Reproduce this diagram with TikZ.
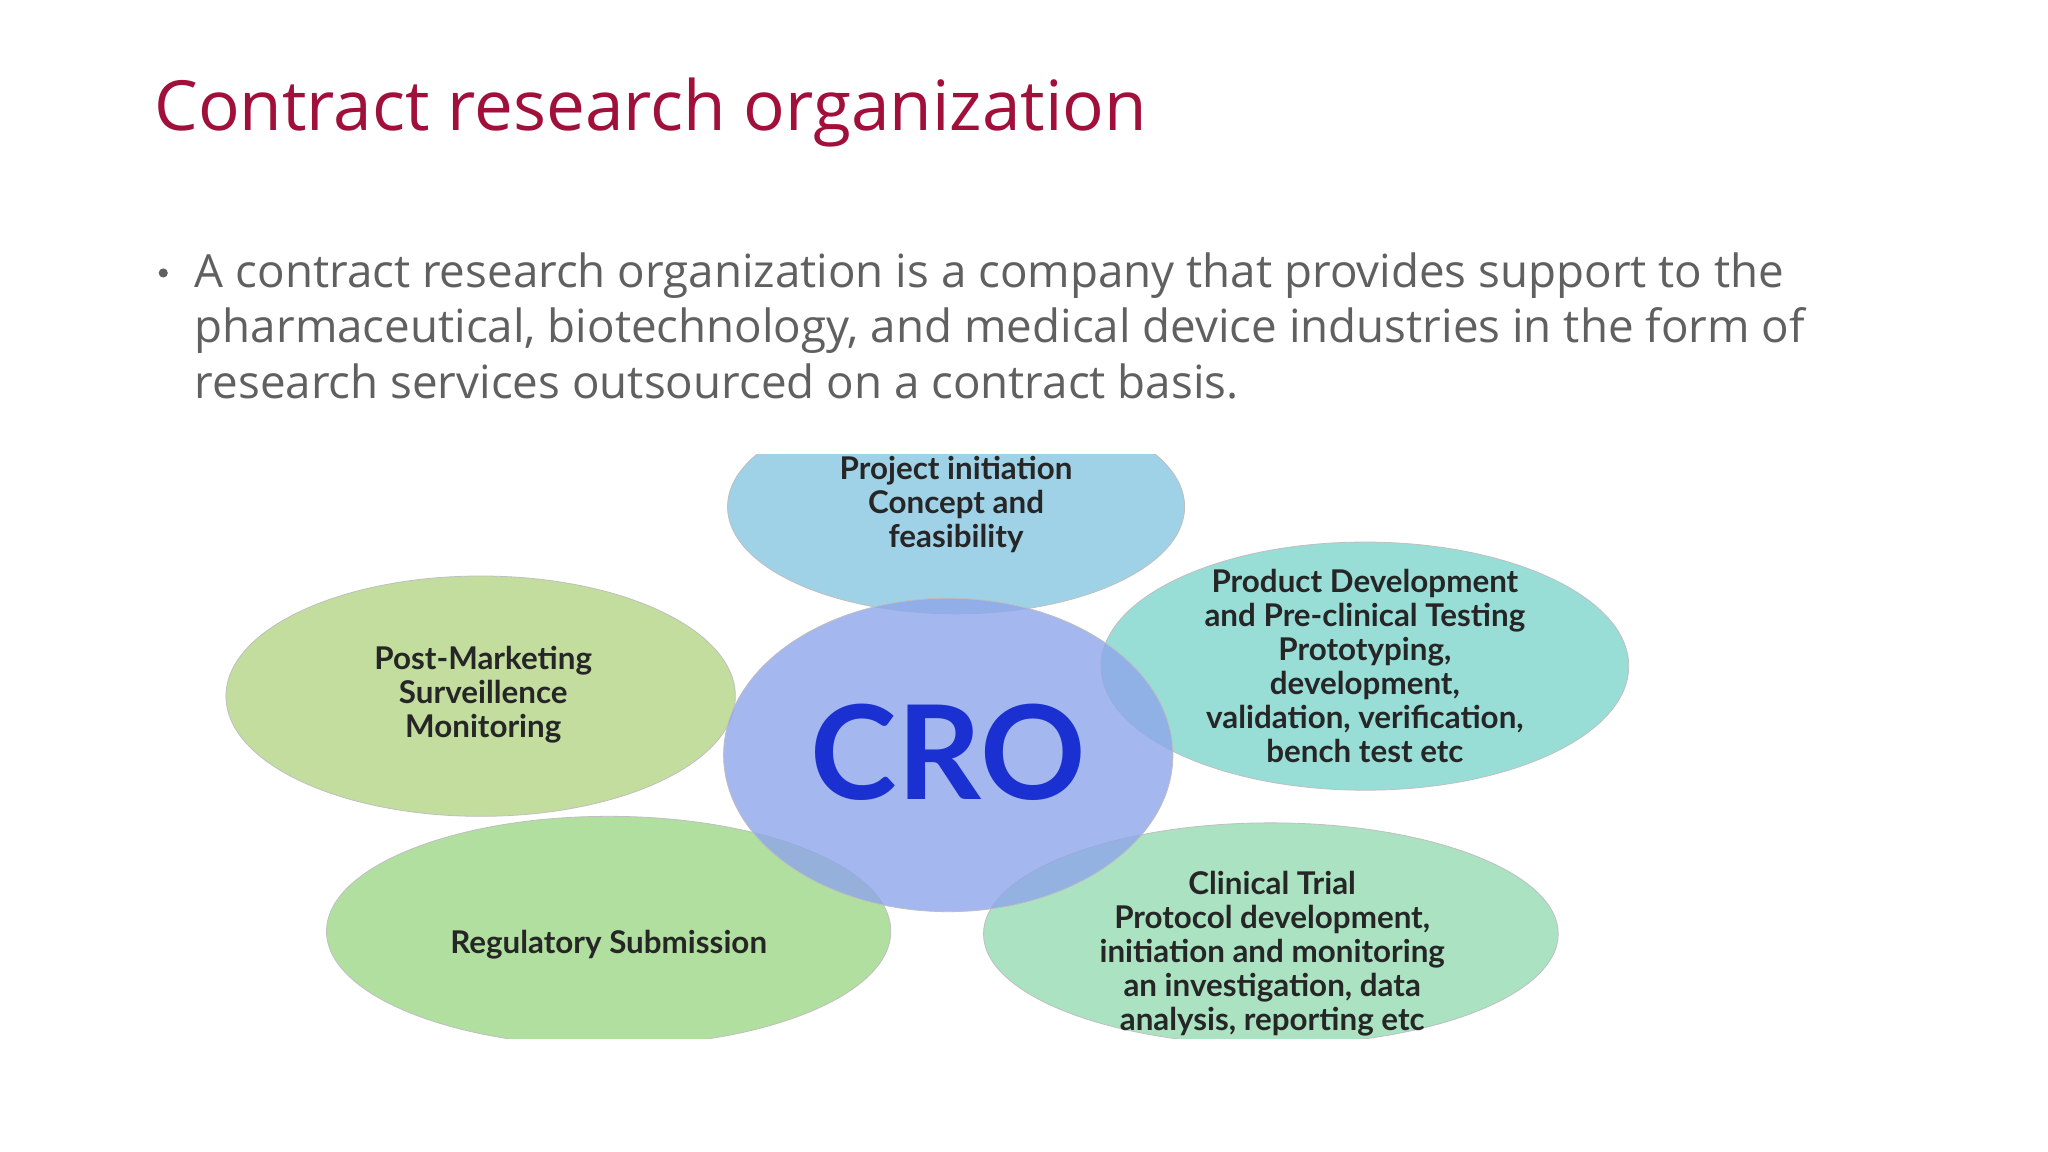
\documentclass[tikz,border=0pt]{standalone}
\usepackage{fontspec}
\setmainfont{Open Sans}
\newfontfamily\lato{Lato}
\definecolor{titlered}{HTML}{A0103A}
\definecolor{bodygray}{HTML}{606060}
\definecolor{cblue}{HTML}{8FCBE3}
\definecolor{cturq}{HTML}{88D8D0}
\definecolor{colive}{HTML}{B8D88E}
\definecolor{cgreen}{HTML}{A4DA90}
\definecolor{cteal}{HTML}{9CDDB8}
\definecolor{ccenter}{HTML}{8EA6EA}
\definecolor{crotext}{HTML}{1A30D0}
\tikzset{
  petal/.style={draw=black!25, line width=0.6pt, fill opacity=0.85},
  ptext/.style={font=\lato\bfseries\fontsize{24}{26}\selectfont, align=center, text=black!85}
}
\begin{document}
\begin{tikzpicture}[x=1pt,y=-1pt]
\useasboundingbox (0,0) rectangle (1568,882);
\fill[white] (0,0) rectangle (1568,882);
\node[anchor=base west, text=titlered, font=\fontsize{53}{58}\selectfont, inner sep=0] (title) at (118,100) {Contract research organization};
\fill[bodygray] (125,209) circle (3.5) coordinate (bullet);
\node[anchor=north west, text=bodygray, font=\fontsize{35}{42.5}\selectfont, align=left, inner sep=0] (body) at (149,193)
{A contract research organization is a company that provides support to the\\pharmaceutical, biotechnology, and medical device industries in the form of\\research services outsourced on a contract basis.};
\begin{scope}
\clip (150,348) rectangle (1250,795);
\fill[white] (150,348) rectangle (1250,795);
\filldraw[petal, fill=cblue] (732,388) ellipse [x radius=175, y radius=82];
\filldraw[petal, fill=cturq] (1045,510) ellipse [x radius=202, y radius=95];
\filldraw[petal, fill=colive] (368,533) ellipse [x radius=195, y radius=92];
\filldraw[petal, fill=cgreen] (466,713) ellipse [x radius=216, y radius=88];
\filldraw[petal, fill=cteal] (973,715) ellipse [x radius=220, y radius=85];
\filldraw[petal, fill=ccenter, fill opacity=0.8] (726,578) ellipse [x radius=172, y radius=120];
\end{scope}
\node[ptext] (top) at (732,386) {Project initiation\\Concept and\\feasibility};
\node[ptext] (right) at (1045,510) {Product Development\\and Pre-clinical Testing\\Prototyping,\\development,\\validation, verification,\\bench test etc};
\node[ptext] (left) at (370,532) {Post-Marketing\\Surveillence\\Monitoring};
\node[ptext] (bl) at (466,723) {Regulatory Submission};
\node[ptext] (br) at (974,730) {Clinical Trial\\Protocol development,\\initiation and monitoring\\an investigation, data\\analysis, reporting etc};
\node[font=\lato\bfseries\fontsize{100}{100}\selectfont, text=crotext] (cro) at (726,576) {CRO};
\end{tikzpicture}
\end{document}
